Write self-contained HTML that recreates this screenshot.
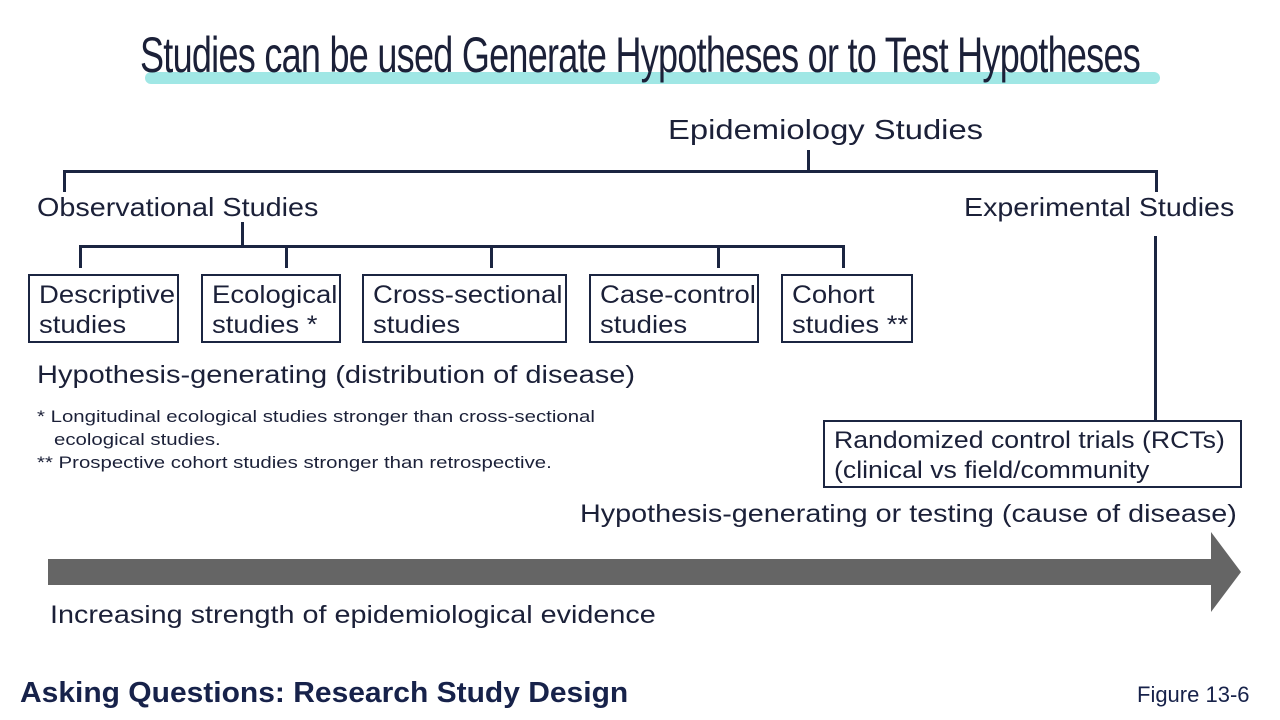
<!DOCTYPE html>
<html><head><meta charset="utf-8"><style>
body{margin:0;width:1280px;height:720px;background:#fff;position:relative;overflow:hidden;font-family:"Liberation Sans",sans-serif;color:#1b2038}
.t{position:absolute;white-space:nowrap;line-height:1;transform-origin:left top}
.l{position:absolute;background:#1b2541}
.b{position:absolute;border:2px solid #1b2541;box-sizing:border-box;font-size:25px;line-height:30px;padding:4px 0 0 9px;white-space:nowrap}
.b span{display:inline-block;transform:scaleX(1.1);transform-origin:left top}
</style></head><body>
<div style="position:absolute;left:145px;top:72px;width:1015px;height:12px;background:#8fe3e0;border-radius:6px;opacity:.85"></div>
<div class="t" style="left:140px;top:30px;font-size:50px;font-family:'Liberation Sans Narrow','Liberation Sans',sans-serif;font-weight:300;color:#1b2038;transform:scaleX(0.72);letter-spacing:-1px">Studies can be used Generate Hypotheses or to Test Hypotheses</div>

<div class="t" style="left:668px;top:116px;font-size:28px;transform:scaleX(1.17)">Epidemiology Studies</div>
<div class="l" style="left:807px;top:150px;width:3px;height:22px"></div>
<div class="l" style="left:63px;top:170px;width:1095px;height:3px"></div>
<div class="l" style="left:63px;top:170px;width:3px;height:22px"></div>
<div class="l" style="left:1155px;top:170px;width:3px;height:22px"></div>
<div class="t" style="left:37px;top:194px;font-size:26px;transform:scaleX(1.106)">Observational Studies</div>
<div class="t" style="left:964px;top:194px;font-size:26px;transform:scaleX(1.1)">Experimental Studies</div>

<div class="l" style="left:241px;top:222px;width:3px;height:24px"></div>
<div class="l" style="left:79px;top:245px;width:766px;height:3px"></div>
<div class="l" style="left:79px;top:245px;width:3px;height:23px"></div>
<div class="l" style="left:285px;top:245px;width:3px;height:23px"></div>
<div class="l" style="left:490px;top:245px;width:3px;height:23px"></div>
<div class="l" style="left:717px;top:245px;width:3px;height:23px"></div>
<div class="l" style="left:842px;top:245px;width:3px;height:23px"></div>

<div class="b" style="left:28px;top:274px;width:151px;height:69px"><span>Descriptive<br>studies</span></div>
<div class="b" style="left:201px;top:274px;width:140px;height:69px"><span>Ecological<br>studies *</span></div>
<div class="b" style="left:362px;top:274px;width:205px;height:69px"><span>Cross-sectional<br>studies</span></div>
<div class="b" style="left:589px;top:274px;width:170px;height:69px"><span>Case-control<br>studies</span></div>
<div class="b" style="left:781px;top:274px;width:132px;height:69px"><span>Cohort<br>studies **</span></div>

<div class="t" style="left:37px;top:363px;font-size:25px;transform:scaleX(1.16)">Hypothesis-generating (distribution of disease)</div>
<div class="t" style="left:37px;top:405px;font-size:17px;line-height:23px;transform:scaleX(1.2)">* Longitudinal ecological studies stronger than cross-sectional<br>&nbsp;&nbsp;&nbsp;ecological studies.<br>** Prospective cohort studies stronger than retrospective.</div>

<div class="l" style="left:1154px;top:236px;width:3px;height:184px"></div>
<div class="b" style="left:823px;top:420px;width:419px;height:68px;font-size:24px;padding-top:4px"><span style="transform:scaleX(1.11)">Randomized control trials (RCTs)<br>(clinical vs field/community</span></div>
<div class="t" style="left:580px;top:502px;font-size:25px;transform:scaleX(1.15)">Hypothesis-generating or testing (cause of disease)</div>

<div style="position:absolute;left:48px;top:559px;width:1165px;height:26px;background:#656565"></div>
<div style="position:absolute;left:1211px;top:532px;width:0;height:0;border-top:40px solid transparent;border-bottom:40px solid transparent;border-left:30px solid #656565"></div>
<div class="t" style="left:50px;top:603px;font-size:25px;transform:scaleX(1.15)">Increasing strength of epidemiological evidence</div>

<div class="t" style="left:20px;top:679px;font-size:29px;font-weight:bold;color:#17224a;transform:scaleX(1.034)">Asking Questions: Research Study Design</div>
<div class="t" style="left:1137px;top:684px;font-size:22px;color:#17224a">Figure 13-6</div>
</body></html>
